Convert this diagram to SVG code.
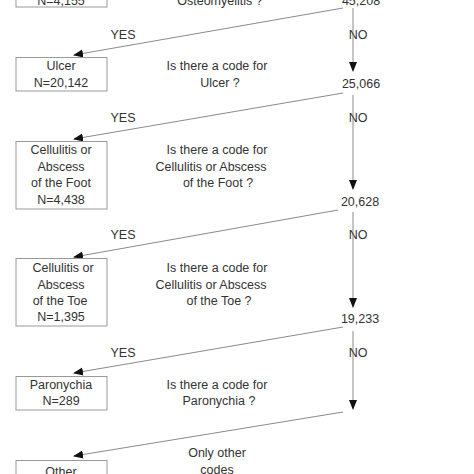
<svg xmlns="http://www.w3.org/2000/svg" width="474" height="474" viewBox="0 0 474 474">
<style>
text{font-family:"Liberation Sans",Arial,sans-serif;font-size:12.5px;fill:#333;text-anchor:middle}
.box{fill:#fff;stroke:#999;stroke-width:1}
.ln{stroke:#8a8a8a;stroke-width:1;fill:none}
.d{marker-end:url(#ah)}
</style>
<defs>
<marker id="ah" markerWidth="10" markerHeight="10" refX="9" refY="4" orient="auto" markerUnits="userSpaceOnUse" viewBox="0 0 10 8">
<path d="M0,0 L10,4 L0,8 Z" fill="#111"/>
</marker>
</defs>
<rect width="474" height="474" fill="#fff"/>
<g id="connectors">
<line class="ln d" x1="343" y1="8" x2="74" y2="55"/>
<line class="ln d" x1="353" y1="8" x2="353" y2="71"/>
<line class="ln d" x1="343" y1="93" x2="74" y2="139"/>
<line class="ln d" x1="353" y1="95" x2="353" y2="189"/>
<line class="ln d" x1="338" y1="210" x2="74" y2="257"/>
<line class="ln d" x1="353" y1="212" x2="353" y2="307"/>
<line class="ln d" x1="343" y1="327" x2="74" y2="373"/>
<line class="ln d" x1="353" y1="331" x2="353" y2="409"/>
<line class="ln d" x1="343" y1="412" x2="74" y2="456"/>
<text x="123" y="39">YES</text><text x="358" y="39">NO</text>
<text x="123" y="122">YES</text><text x="358" y="122">NO</text>
<text x="123" y="239">YES</text><text x="358" y="239">NO</text>
<text x="123" y="357">YES</text><text x="358" y="357">NO</text>
</g>
<g id="osteo">
<rect class="box" x="16" y="-30" width="91" height="37"/>
<text x="61" y="5">N=4,155</text>
<text x="220" y="5">Osteomyelitis  ?</text>
<text x="361" y="5">45,208</text>
</g>
<g id="ulcer">
<rect class="box" x="16" y="57.5" width="91" height="33.5"/>
<text x="61" y="70">Ulcer</text>
<text x="61" y="87">N=20,142</text>
<text x="217" y="70">Is there a code for</text>
<text x="220" y="87">Ulcer ?</text>
<text x="361" y="88">25,066</text>
</g>
<g id="foot">
<rect class="box" x="16" y="141.5" width="91" height="67.5"/>
<text x="61" y="154">Cellulitis or</text>
<text x="61" y="170.5">Abscess</text>
<text x="61" y="187">of the Foot</text>
<text x="61" y="204">N=4,438</text>
<text x="217" y="154">Is there a code for</text>
<text x="211" y="170.5">Cellulitis or Abscess</text>
<text x="218" y="187">of the Foot  ?</text>
<text x="360" y="206">20,628</text>
</g>
<g id="toe">
<rect class="box" x="16" y="258.5" width="91" height="67.5"/>
<text x="63" y="272">Cellulitis or</text>
<text x="61" y="288.5">Abscess</text>
<text x="60" y="305">of the Toe</text>
<text x="61" y="321">N=1,395</text>
<text x="217" y="272">Is there a code for</text>
<text x="211" y="288.5">Cellulitis or Abscess</text>
<text x="219" y="305">of the Toe  ?</text>
<text x="360" y="323">19,233</text>
</g>
<g id="parony">
<rect class="box" x="16" y="376.5" width="91" height="33.5"/>
<text x="61" y="389">Paronychia</text>
<text x="61" y="405">N=289</text>
<text x="217" y="389">Is there a code for</text>
<text x="219" y="405">Paronychia  ?</text>
</g>
<g id="other">
<rect class="box" x="16" y="460.5" width="91" height="30"/>
<text x="61" y="476">Other</text>
<text x="217" y="457">Only other</text>
<text x="217" y="474">codes</text>
</g>
</svg>
